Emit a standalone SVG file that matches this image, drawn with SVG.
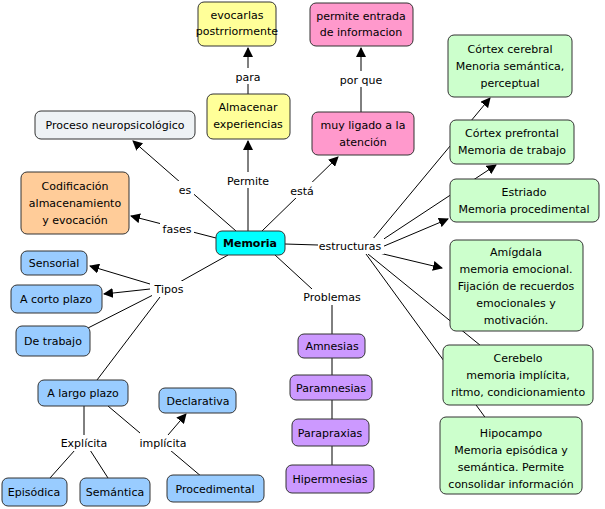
<svg xmlns="http://www.w3.org/2000/svg" width="605" height="509" viewBox="0 0 605 509">
<defs>
<marker id="ar" viewBox="0 0 10 10" refX="9" refY="5" markerWidth="10" markerHeight="10" markerUnits="userSpaceOnUse" orient="auto"><path d="M0,0 L10,5 L0,10 z" fill="#000"/></marker>
<style>
text{font-family:"DejaVu Sans",Verdana,sans-serif;font-size:11px;fill:#000;text-anchor:middle}
.n rect{stroke:#333;stroke-width:1;rx:6}
.y rect{fill:#ffff99}.p rect{fill:#ff99cc}.g rect{fill:#ccffcc}.b rect{fill:#99ccff}.v rect{fill:#cc99ff}
#connectors line{stroke:#000;stroke-width:1}
.a{marker-end:url(#ar)}
.lbl{fill:#fff}
</style>
</defs>
<rect width="605" height="509" fill="#fff"/>
<g id="connectors">
<line x1="236" y1="231" x2="133" y2="141" class="a"/>
<line x1="248" y1="231" x2="248" y2="141" class="a"/>
<line x1="262" y1="231" x2="338" y2="157" class="a"/>
<line x1="248" y1="94" x2="248" y2="48" class="a"/>
<line x1="361" y1="112" x2="361" y2="48" class="a"/>
<line x1="216" y1="238" x2="131" y2="216" class="a"/>
<line x1="285" y1="244" x2="318" y2="245"/>
<line x1="362" y1="252" x2="490" y2="98" class="a"/>
<line x1="364" y1="252" x2="496" y2="165" class="a"/>
<line x1="370" y1="252" x2="448" y2="219" class="a"/>
<line x1="375" y1="252" x2="442" y2="268" class="a"/>
<line x1="368" y1="254" x2="486" y2="350"/>
<line x1="366" y1="254" x2="487" y2="420"/>
<line x1="228" y1="255" x2="178" y2="283"/>
<line x1="150" y1="284" x2="90" y2="266" class="a"/>
<line x1="150" y1="289" x2="104" y2="294" class="a"/>
<line x1="153" y1="295" x2="88" y2="328"/>
<line x1="160" y1="297" x2="97" y2="380"/>
<line x1="275" y1="255" x2="312" y2="289"/>
<line x1="332" y1="305" x2="332" y2="465"/>
<line x1="84" y1="406" x2="84" y2="435"/>
<line x1="75" y1="450" x2="50" y2="478"/>
<line x1="90" y1="450" x2="108" y2="478"/>
<line x1="108" y1="406" x2="140" y2="433"/>
<line x1="168" y1="435" x2="186" y2="414" class="a"/>
<line x1="170" y1="450" x2="202" y2="477"/>
</g>
<g id="labels">
<rect class="lbl" x="231" y="68" width="34" height="16"/><text x="248" y="81">para</text>
<rect class="lbl" x="336" y="71" width="50" height="16"/><text x="361" y="84">por que</text>
<rect class="lbl" x="176" y="181" width="18" height="16"/><text x="185" y="194">es</text>
<rect class="lbl" x="225" y="172" width="46" height="16"/><text x="248" y="185">Permite</text>
<rect class="lbl" x="289" y="182" width="26" height="16"/><text x="302" y="195">está</text>
<rect class="lbl" x="160" y="221" width="34" height="16"/><text x="177" y="233">fases</text>
<rect class="lbl" x="318" y="238" width="66" height="16"/><text x="350" y="250">estructuras</text>
<rect class="lbl" x="152" y="281" width="34" height="16"/><text x="169" y="293">Tipos</text>
<rect class="lbl" x="302" y="289" width="60" height="16"/><text x="332" y="301">Problemas</text>
<rect class="lbl" x="58" y="435" width="52" height="16"/><text x="84" y="447">Explícita</text>
<rect class="lbl" x="136" y="435" width="54" height="16"/><text x="163" y="447">implícita</text>
</g>
<g id="n-evocarlas" class="n y"><rect x="198" y="2" width="78" height="44"/><text x="237" y="19">evocarlas</text><text x="237" y="35">postrriormente</text></g>
<g id="n-permite" class="n p"><rect x="310" y="3" width="103" height="43"/><text x="361" y="20">permite entrada</text><text x="361" y="36">de informacion</text></g>
<g id="n-cortex" class="n g"><rect x="448" y="35" width="124" height="62"/><text x="510" y="53">Córtex cerebral</text><text x="510" y="70">Menoria semántica,</text><text x="510" y="87">perceptual</text></g>
<g id="n-almacenar" class="n y"><rect x="207" y="94" width="83" height="45"/><text x="248" y="111">Almacenar</text><text x="248" y="128">experiencias</text></g>
<g id="n-ligado" class="n p"><rect x="312" y="112" width="102" height="43"/><text x="363" y="129">muy ligado a la</text><text x="363" y="146">atención</text></g>
<g id="n-proceso" class="n"><rect x="35" y="111" width="160" height="28" fill="#eef2f5"/><text x="115" y="129">Proceso neuropsicológico</text></g>
<g id="n-prefrontal" class="n g"><rect x="450" y="120" width="124" height="44"/><text x="512" y="137">Córtex prefrontal</text><text x="512" y="154">Memoria de trabajo</text></g>
<g id="n-codif" class="n"><rect x="21" y="172" width="108" height="62" fill="#ffcc99"/><text x="75" y="190">Codificación</text><text x="75" y="207">almacenamiento</text><text x="75" y="224">y evocación</text></g>
<g id="n-estriado" class="n g"><rect x="450" y="179" width="149" height="43"/><text x="524" y="196">Estriado</text><text x="524" y="213">Memoria procedimental</text></g>
<g id="n-memoria" class="n"><rect x="216" y="231" width="69" height="24" fill="#00ffff"/><text x="250" y="247" font-weight="bold">Memoria</text></g>
<g id="n-amigdala" class="n g"><rect x="450" y="240" width="133" height="91"/><text x="516" y="256">Amígdala</text><text x="516" y="273">memoria emocional.</text><text x="516" y="290">Fijación de recuerdos</text><text x="516" y="307">emocionales y</text><text x="516" y="324">motivación.</text></g>
<g id="n-sensorial" class="n b"><rect x="21" y="251" width="66" height="24"/><text x="54" y="267">Sensorial</text></g>
<g id="n-corto" class="n b"><rect x="11" y="285" width="91" height="28"/><text x="56" y="303">A corto plazo</text></g>
<g id="n-trabajo" class="n b"><rect x="16" y="326" width="74" height="30"/><text x="53" y="345">De trabajo</text></g>
<g id="n-amnesias" class="n v"><rect x="298" y="334" width="67" height="24"/><text x="332" y="350">Amnesias</text></g>
<g id="n-cerebelo" class="n g"><rect x="443" y="345" width="150" height="60"/><text x="518" y="362">Cerebelo</text><text x="518" y="379">memoria implícita,</text><text x="518" y="396">ritmo, condicionamiento</text></g>
<g id="n-largo" class="n b"><rect x="38" y="380" width="90" height="26"/><text x="83" y="397">A largo plazo</text></g>
<g id="n-declarativa" class="n b"><rect x="159" y="388" width="77" height="25"/><text x="198" y="405">Declarativa</text></g>
<g id="n-paramnesias" class="n v"><rect x="290" y="375" width="82" height="25"/><text x="331" y="392">Paramnesias</text></g>
<g id="n-parapraxias" class="n v"><rect x="292" y="419" width="77" height="27"/><text x="330" y="437">Parapraxias</text></g>
<g id="n-hipocampo" class="n g"><rect x="440" y="417" width="142" height="77"/><text x="511" y="437">Hipocampo</text><text x="511" y="454">Memoria episódica y</text><text x="511" y="471">semántica. Permite</text><text x="511" y="488">consolidar información</text></g>
<g id="n-hipermnesias" class="n v"><rect x="286" y="465" width="88" height="28"/><text x="330" y="483">Hipermnesias</text></g>
<g id="n-episodica" class="n b"><rect x="2" y="478" width="65" height="28"/><text x="34" y="496">Episódica</text></g>
<g id="n-semantica" class="n b"><rect x="80" y="478" width="70" height="28"/><text x="115" y="496">Semántica</text></g>
<g id="n-procedimental" class="n b"><rect x="167" y="475" width="97" height="27"/><text x="215" y="493">Procedimental</text></g>
</svg>
